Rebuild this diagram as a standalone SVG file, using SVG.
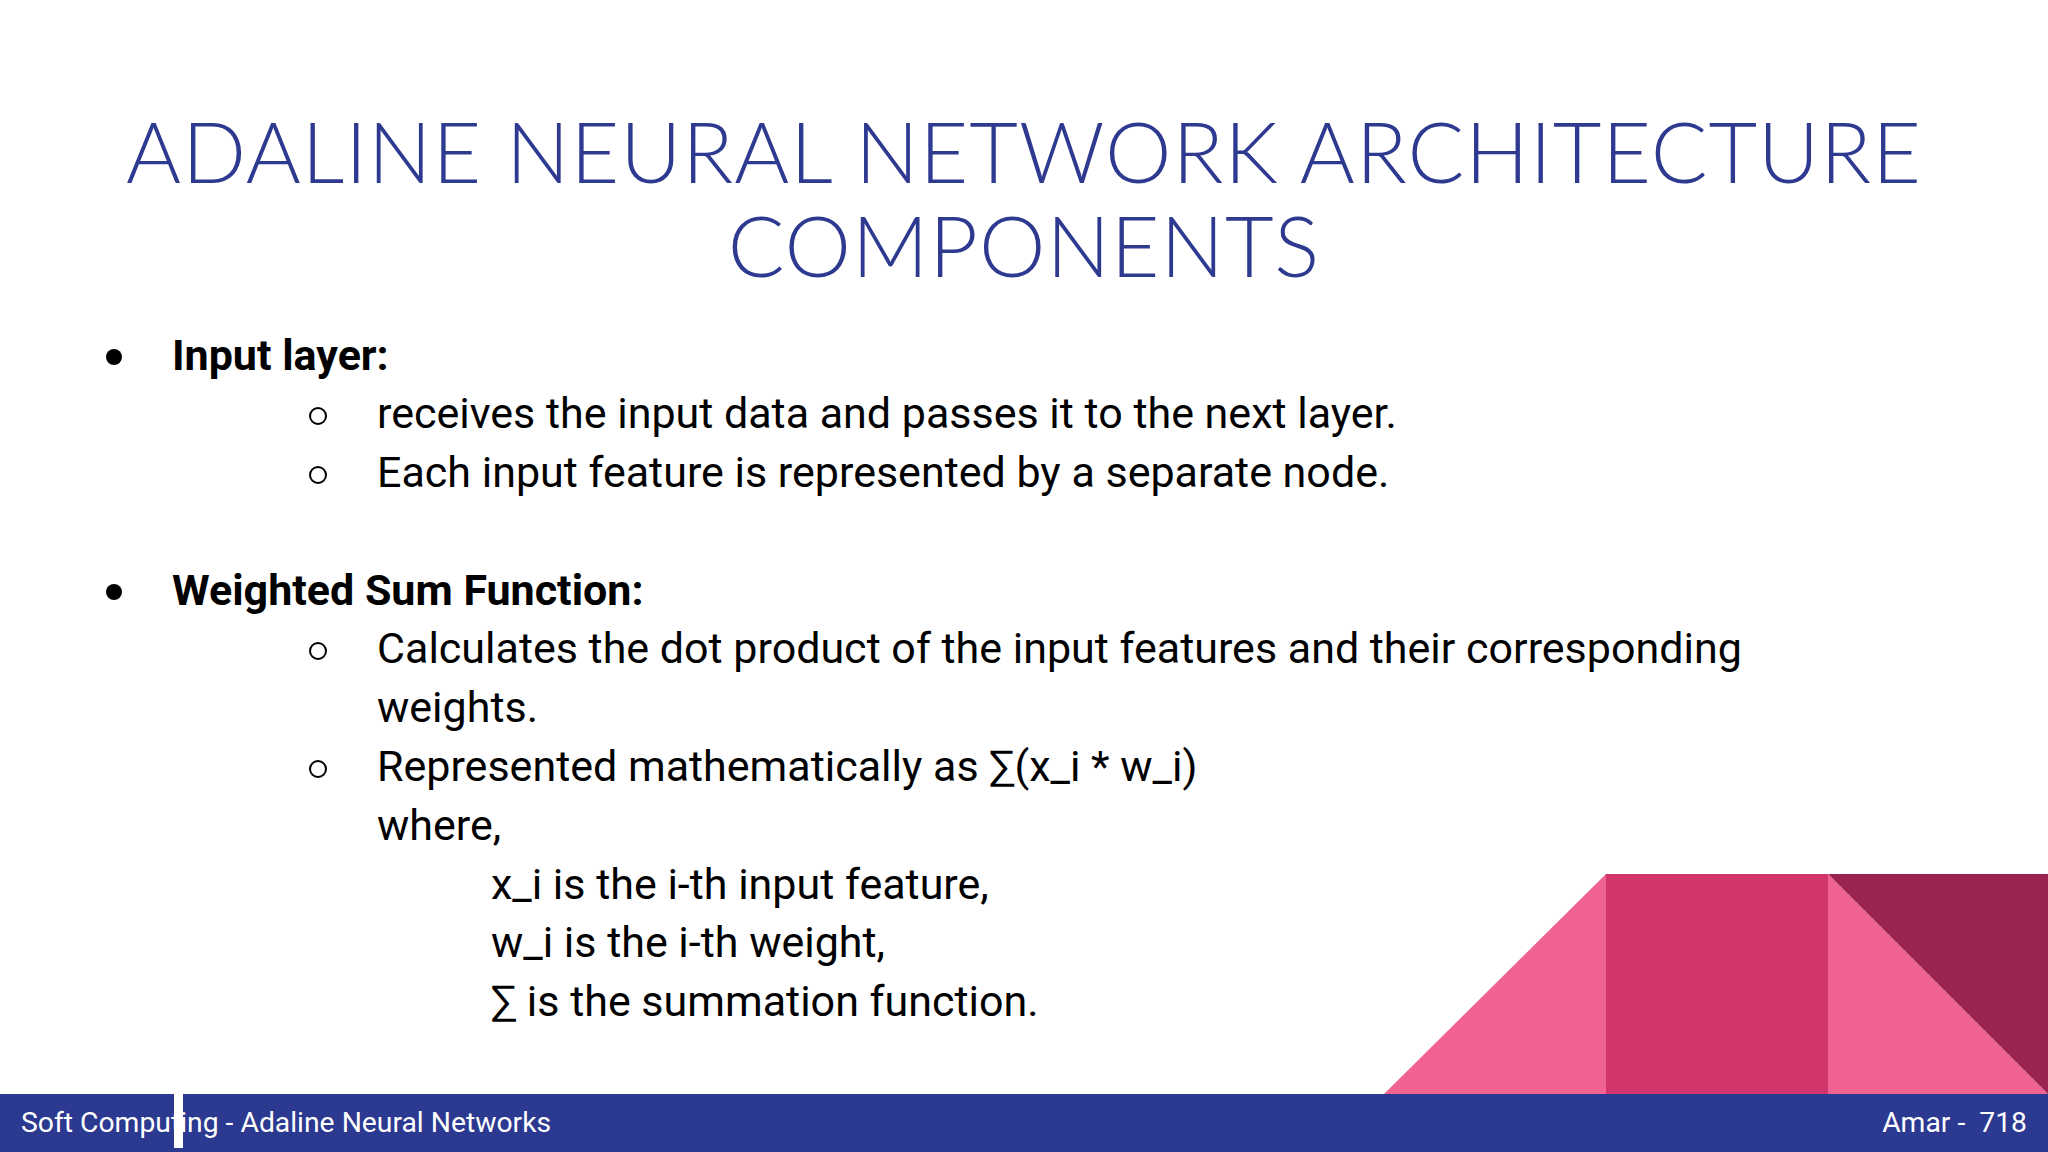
<svg xmlns="http://www.w3.org/2000/svg" width="2048" height="1152" viewBox="0 0 2048 1152">
<style>
.t{font-family:"Lato","Noto Sans",sans-serif;font-weight:300;font-size:84px;fill:#2e3990;text-anchor:middle;letter-spacing:1px}
.b{font-family:Roboto,"Liberation Sans",sans-serif;font-size:43px;fill:#000}
.h{font-weight:bold}
.f{font-family:Roboto,"Liberation Sans",sans-serif;font-size:28.3px;fill:#fff}
</style>
<rect width="2048" height="1152" fill="#fff"/>
<g id="title">
<text class="t" x="1024" y="183">ADALINE NEURAL NETWORK ARCHITECTURE</text>
<text class="t" x="1024" y="277">COMPONENTS</text>
</g>
<g id="content">
<circle cx="114" cy="357" r="8" fill="#000"/>
<text class="b h" x="172" y="370">Input layer:</text>
<circle cx="318" cy="416" r="8" fill="none" stroke="#000" stroke-width="2"/>
<text class="b" x="377" y="428">receives the input data and passes it to the next layer.</text>
<circle cx="318" cy="475" r="8" fill="none" stroke="#000" stroke-width="2"/>
<text class="b" x="377" y="487">Each input feature is represented by a separate node.</text>
<circle cx="114" cy="592" r="8" fill="#000"/>
<text class="b h" x="172" y="605">Weighted Sum Function:</text>
<circle cx="318" cy="651" r="8" fill="none" stroke="#000" stroke-width="2"/>
<text class="b" x="377" y="663">Calculates the dot product of the input features and their corresponding</text>
<text class="b" x="377" y="722">weights.</text>
<circle cx="318" cy="769" r="8" fill="none" stroke="#000" stroke-width="2"/>
<text class="b" x="377" y="781">Represented mathematically as ∑(x_i * w_i)</text>
<text class="b" x="377" y="840">where,</text>
<text class="b" x="491" y="899">x_i is the i-th input feature,</text>
<text class="b" x="491" y="957">w_i is the i-th weight,</text>
<text class="b" x="491" y="1016">∑ is the summation function.</text>
</g>
<g id="decoration">
<polygon points="1384,1094 1606,874 1606,1094" fill="#f06292"/>
<rect x="1606" y="874" width="222" height="220" fill="#d1356b"/>
<polygon points="1828,874 2048,1094 1828,1094" fill="#f06292"/>
<polygon points="1828,874 2048,874 2048,1094" fill="#9b2350"/>
</g>
<g id="footer">
<rect x="0" y="1094" width="2048" height="58" fill="#2b3990"/>
<text class="f" x="21" y="1132">Soft Computing - Adaline Neural Networks</text>
<rect x="174" y="1094" width="9" height="54" fill="#fff"/>
<text class="f" x="2027" y="1132" text-anchor="end" xml:space="preserve">Amar -  718</text>
</g>
</svg>
